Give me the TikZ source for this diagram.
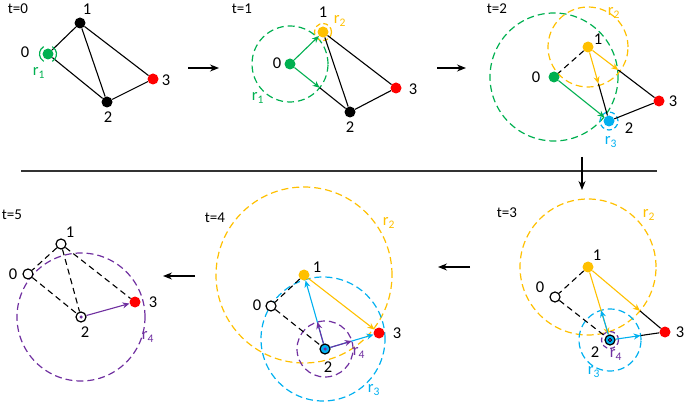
\documentclass[tikz,border=0pt]{standalone}
\usepackage{fontspec}
\setmainfont{Carlito}
\usetikzlibrary{arrows.meta,calc,backgrounds}
\definecolor{cgreen}{HTML}{00B050}
\definecolor{cgold}{HTML}{FFC000}
\definecolor{cred}{HTML}{FF0000}
\definecolor{cblue}{HTML}{00B0F0}
\definecolor{cpurple}{HTML}{7030A0}
\begin{document}
\begin{tikzpicture}[x=1pt,y=-1pt,
  vtx/.style={circle,minimum size=11pt,inner sep=0pt},
  gnode/.style={vtx,fill=cgreen},
  knode/.style={vtx,fill=black},
  rnode/.style={vtx,fill=cred},
  onode/.style={vtx,fill=cgold},
  bnode/.style={vtx,fill=cblue},
  hnode/.style={vtx,minimum size=10pt,fill=white,draw=black,line width=1.2pt},
  snode/.style={vtx,minimum size=10pt,fill=cblue,draw=black,line width=1.2pt},
  dotnode/.style={circle,minimum size=3.5pt,inner sep=0pt,fill=cpurple},
  lbl/.style={font=\fontsize{16.5}{19}\selectfont,inner sep=0pt},
  tlbl/.style={font=\fontsize{15}{18}\selectfont,inner sep=0pt},
  edge/.style={line width=1.1pt,black},
  dedge/.style={line width=1.1pt,black,dash pattern=on 6pt off 4pt},
  ring/.style={line width=1.2pt,dash pattern=on 7pt off 4pt},
  smallring/.style={line width=1.2pt,dash pattern=on 5pt off 3pt},
  carr/.style={line width=1.1pt,-{Stealth[length=7pt,width=6pt]}},
  bigarr/.style={line width=1.2pt,-{Stealth[length=9pt,width=7pt]}}
]
\useasboundingbox (0,0) rectangle (685,403);

% ---------------- t=0 ----------------
\node[gnode] (a0) at (48,54) {};
\node[knode] (a1) at (80,23) {};
\node[knode] (a2) at (107,102) {};
\node[rnode] (a3) at (153,79) {};
\begin{scope}[on background layer]
  \draw[edge] (a0) -- (a1) (a0) -- (a2) (a1) -- (a2) (a1) -- (a3) (a2) -- (a3);
\end{scope}
\draw[cgreen,line width=1.2pt] (a0) ++(-60:8.5pt) arc[start angle=-60,end angle=60,radius=8.5pt];
\draw[cgreen,line width=1.2pt] (a0) ++(120:8.5pt) arc[start angle=120,end angle=240,radius=8.5pt];
\node[tlbl] (ta) at (18,9) {t=0};
\node[lbl] (la1) at (87,9) {1};
\node[lbl] (la0) at (25,52) {0};
\node[lbl] (la3) at (166,80) {3};
\node[lbl] (la2) at (108,117) {2};
\node[lbl,text=cgreen] (lar1) at (39,73) {r\textsubscript{1}};

% ---------------- t=1 ----------------
\node[gnode] (b0) at (290,64) {};
\node[onode] (b1) at (323,32) {};
\node[knode] (b2) at (350,112) {};
\node[rnode] (b3) at (396,88) {};
\coordinate (b02) at ($(b0)!38pt!(b2)$);
\begin{scope}[on background layer]
  \draw[ring,cgreen] (b0) circle[radius=38pt];
  \draw[smallring,cgold] (b1) circle[radius=8.5pt];
  \draw[edge] (b1) -- (b2) (b1) -- (b3) (b2) -- (b3) (b02) -- (b2);
  \draw[carr,cgreen] (b0) -- (b1);
  \draw[carr,cgreen] (b0) -- (b02);
\end{scope}
\node[tlbl] (tb) at (242,9) {t=1};
\node[lbl] (lb1) at (323,12) {1};
\node[lbl,text=cgold] (lbr2) at (340,21) {r\textsubscript{2}};
\node[lbl] (lb0) at (277,63) {0};
\node[lbl] (lb3) at (413,89) {3};
\node[lbl] (lb2) at (350,127) {2};
\node[lbl,text=cgreen] (lbr1) at (258,98) {r\textsubscript{1}};

% ---------------- t=2 ----------------
\node[gnode] (c0) at (554,77) {};
\node[onode] (c1) at (588,47) {};
\node[bnode] (c2) at (609,121) {};
\node[rnode] (c3) at (659,101) {};
\coordinate (c12) at ($(c1)!38pt!(c2)$);
\coordinate (c13) at ($(c1)!38pt!(c3)$);
\begin{scope}[on background layer]
  \draw[ring,cgreen] (c0) circle[radius=64pt];
  \draw[ring,cgold] (c1) circle[radius=40pt];
  \draw[smallring,cblue] (c2) circle[radius=9pt];
  \draw[dedge] (c1) -- (c0);
  \draw[edge] (c12) -- (c2) (c13) -- (c3) (c2) -- (c3);
  \draw[carr,cgreen] (c0) -- (c2);
  \draw[carr,cgold] (c1) -- (c12);
  \draw[carr,cgold] (c1) -- (c13);
\end{scope}
\node[tlbl] (tc) at (497,9) {t=2};
\node[lbl] (lc1) at (598,39) {1};
\node[lbl] (lc0) at (536,77) {0};
\node[lbl] (lc3) at (673,101) {3};
\node[lbl] (lc2) at (629,128) {2};
\node[lbl,text=cgold] (lcr2) at (614,13) {r\textsubscript{2}};
\node[lbl,text=cblue] (lcr3) at (611,142) {r\textsubscript{3}};

% ---------------- separator and panel arrows ----------------
\coordinate (s1) at (21,171);
\coordinate (s2) at (657,171);
\draw[line width=1.2pt,black!80] (s1) -- (s2);
\coordinate (p1s) at (188,68); \coordinate (p1e) at (219,68);
\coordinate (p2s) at (437,68); \coordinate (p2e) at (466,68);
\coordinate (p3s) at (582,157); \coordinate (p3e) at (582,190);
\coordinate (p4s) at (470,267); \coordinate (p4e) at (438,267);
\coordinate (p5s) at (195,276); \coordinate (p5e) at (163,276);
\draw[bigarr] (p1s) -- (p1e);
\draw[bigarr] (p2s) -- (p2e);
\draw[bigarr] (p3s) -- (p3e);
\draw[bigarr] (p4s) -- (p4e);
\draw[bigarr] (p5s) -- (p5e);

% ---------------- t=3 ----------------
\node[hnode] (d0) at (555,297) {};
\node[onode] (d1) at (588,267) {};
\node[snode] (d2) at (610,340) {};
\node[dotnode,draw=black,line width=0.6pt] (d2c) at (d2) {};
\node[rnode] (d3) at (665,332) {};
\coordinate (d13) at ($(d1)!68pt!(d3)$);
\coordinate (d21) at ($(d2)!31pt!(d1)$);
\coordinate (d23) at ($(d2)!31pt!(d3)$);
\begin{scope}[on background layer]
  \draw[ring,cgold] (d1) circle[radius=68pt];
  \draw[ring,cblue] (d2) circle[radius=31pt];
  \draw[smallring,cpurple] (d2) circle[radius=8.5pt];
  \draw[dedge] (d1) -- (d0);
  \draw[dedge] (d0) -- (d2);
  \draw[edge] (d13) -- (d3) (d23) -- (d3);
  \draw[carr,cgold] (d1) -- (d2);
  \draw[carr,cgold] (d1) -- (d13);
  \draw[carr,cblue] (d2) -- (d21);
  \draw[carr,cblue] (d2) -- (d23);
\end{scope}
\node[tlbl] (td) at (507,213) {t=3};
\node[lbl] (ld1) at (597,255) {1};
\node[lbl] (ld0) at (540,287) {0};
\node[lbl] (ld3) at (680,332) {3};
\node[lbl] (ld2) at (595,352) {2};
\node[lbl,text=cgold] (ldr2) at (649,215) {r\textsubscript{2}};
\node[lbl,text=cblue] (ldr3) at (594,372) {r\textsubscript{3}};
\node[lbl,text=cpurple] (ldr4) at (616,355) {r\textsubscript{4}};

% ---------------- t=4 ----------------
\node[hnode] (e0) at (271,306) {};
\node[onode] (e1) at (304,275) {};
\node[snode] (e2) at (325,349) {};
\node[dotnode] (e2c) at (e2) {};
\node[rnode] (e3) at (379,333) {};
\coordinate (ebc) at (323,339);
\coordinate (e21) at ($(e2)!28pt!(e1)$);
\coordinate (e23) at ($(e2)!28pt!(e3)$);
\begin{scope}[on background layer]
  \draw[ring,cgold] (e1) circle[radius=88pt];
  \draw[ring,cblue] (ebc) circle[radius=62pt];
  \draw[ring,cpurple] (e2) circle[radius=28pt];
  \draw[dedge] (e1) -- (e0);
  \draw[dedge] (e0) -- (e2);
  \draw[carr,cblue] (e2) -- (e1);
  \draw[carr,cgold] (e1) -- (e3);
  \draw[carr,cblue] (e2) -- (e3);
  \draw[carr,cpurple] (e2) -- (e21);
  \draw[carr,cpurple] (e2) -- (e23);
\end{scope}
\node[tlbl] (te) at (215,218) {t=4};
\node[lbl] (le1) at (317,267) {1};
\node[lbl] (le0) at (257,305) {0};
\node[lbl] (le3) at (397,333) {3};
\node[lbl] (le2) at (328,367) {2};
\node[lbl,text=cgold] (ler2) at (389,223) {r\textsubscript{2}};
\node[lbl,text=cpurple] (ler4) at (359,353) {r\textsubscript{4}};
\node[lbl,text=cblue] (ler3) at (374,390) {r\textsubscript{3}};

% ---------------- t=5 ----------------
\node[hnode] (f0) at (28,274) {};
\node[hnode] (f1) at (61,244) {};
\node[hnode] (f2) at (81,317) {};
\node[dotnode] (f2c) at (f2) {};
\node[rnode] (f3) at (135,302) {};
\begin{scope}[on background layer]
  \draw[ring,cpurple] (f2) circle[radius=64pt];
  \draw[dedge] (f1) -- (f0);
  \draw[dedge] (f0) -- (f2);
  \draw[dedge] (f1) -- (f2);
  \draw[dedge] (f1) -- (f3);
  \draw[carr,cpurple] (f2) -- (f3);
\end{scope}
\node[tlbl] (tf) at (12,215) {t=5};
\node[lbl] (lf1) at (70,232) {1};
\node[lbl] (lf0) at (13,274) {0};
\node[lbl] (lf3) at (153,302) {3};
\node[lbl] (lf2) at (85,332) {2};
\node[lbl,text=cpurple] (lfr4) at (148,337) {r\textsubscript{4}};
\end{tikzpicture}
\end{document}
